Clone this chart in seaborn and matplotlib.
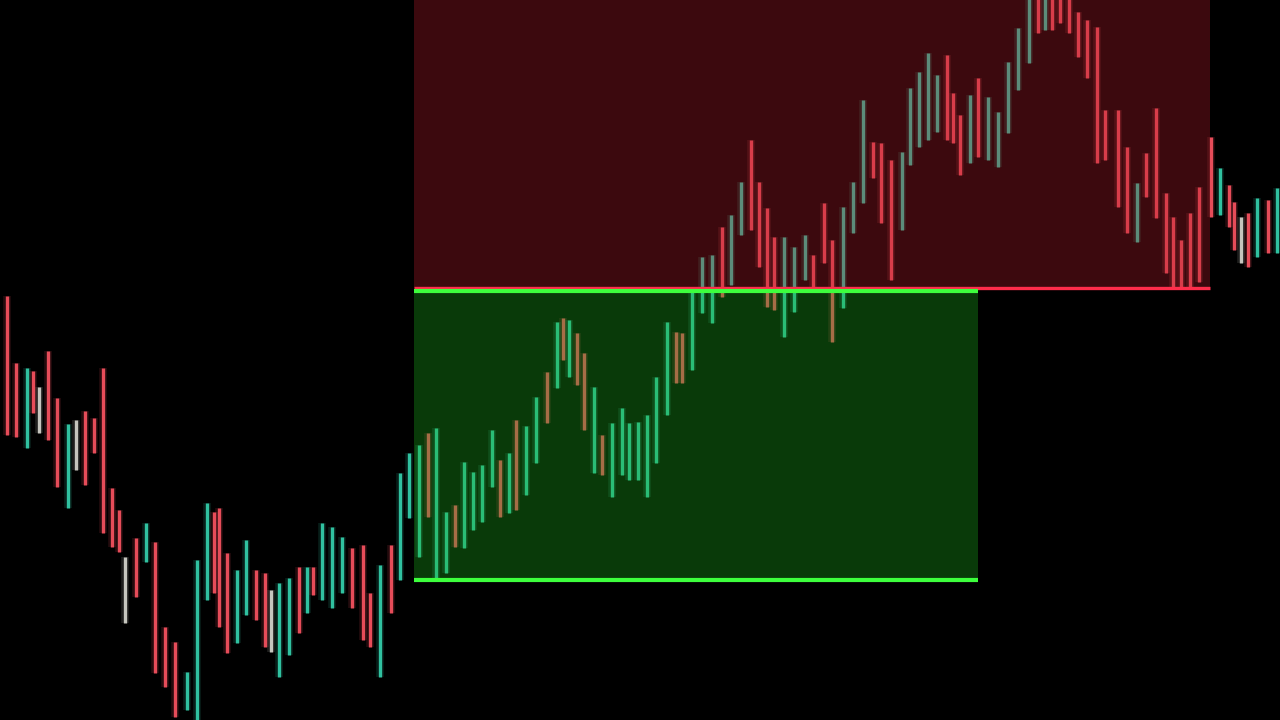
import matplotlib
matplotlib.use('Agg')
import matplotlib.pyplot as plt
import pandas as pd
import seaborn as sns

# bar positions (time axis) and high / low prices
t = [7, 16, 27, 33, 39, 48, 57, 68, 76, 85, 94, 103, 112, 119, 125, 136, 146, 155, 165, 175,
     187, 197, 207, 214, 219, 227, 237, 246, 256, 265, 271, 279, 289, 299, 307, 313, 322, 332,
     342, 352, 363, 370, 380, 391, 400, 409, 419, 428, 436, 446, 455, 464, 473, 482, 492, 500,
     509, 516, 526, 536, 547, 557, 563, 569, 577, 584, 594, 602, 612, 622, 629, 638, 647, 656,
     667, 676, 682, 692, 702, 712, 722, 731, 741, 751, 759, 767, 774, 784, 794, 805, 813, 824,
     832, 843, 853, 863, 873, 881, 891, 902, 910, 919, 928, 937, 947, 953, 960, 970, 978, 988,
     998, 1008, 1018, 1029, 1038, 1045, 1052, 1060, 1069, 1078, 1087, 1097, 1105, 1118, 1127,
     1137, 1146, 1156, 1166, 1173, 1181, 1190, 1199, 1211, 1220, 1229, 1234, 1241, 1248, 1257,
     1268, 1277]
high = [424, 357, 352, 349, 333, 369, 322, 296, 300, 309, 302, 352, 232, 210, 163, 182, 197, 178, 93, 78,
        48, 160, 217, 208, 212, 167, 150, 180, 150, 147, 130, 137, 142, 153, 153, 153, 197, 193,
        183, 172, 175, 127, 155, 175, 247, 267, 275, 287, 292, 208, 215, 258, 248, 255, 290, 260,
        267, 300, 294, 323, 348, 398, 402, 400, 387, 367, 333, 285, 297, 312, 297, 298, 305, 343,
        398, 388, 387, 430, 463, 465, 493, 505, 538, 580, 538, 512, 483, 483, 473, 485, 465, 517,
        480, 513, 538, 620, 578, 577, 560, 568, 632, 648, 667, 645, 665, 627, 605, 625, 642, 623,
        608, 658, 692, 725, 725, 725, 725, 725, 725, 708, 700, 693, 610, 610, 573,
        537, 567, 612, 527, 503, 480, 507, 533, 583, 552, 535, 518, 503, 507, 522,
        520, 532]
low = [285, 283, 272, 307, 287, 280, 233, 212, 250, 235, 267, 187, 173, 168, 97, 123, 158, 47, 33, 3,
       10, -5, 120, 127, 93, 67, 77, 105, 100, 73, 68, 43, 65, 87, 107, 125, 120, 112,
       127, 112, 80, 73, 43, 107, 140, 202, 163, 203, 140, 147, 173, 172, 190, 198, 233, 203,
       207, 210, 225, 257, 297, 332, 360, 343, 335, 290, 247, 245, 223, 245, 240, 240, 223, 257,
       305, 337, 337, 350, 407, 397, 423, 435, 485, 490, 453, 413, 410, 383, 408, 440, 433, 457,
       378, 412, 487, 517, 542, 497, 440, 490, 555, 573, 580, 588, 580, 577, 545, 557, 563, 560,
       553, 587, 630, 657, 687, 690, 690, 697, 687, 663, 642, 557, 560, 513, 487,
       478, 523, 502, 447, 433, 432, 433, 438, 503, 505, 493, 470, 457, 453, 463,
       467, 467]
# r = bearish, t = bullish, d = doji
side = list('rrtrdrrtdrrrrrdrtrrrttt'
            'rrrttrrdttrtrtttrrrtrt'
            'ttrttrttttrtrttrtrtrrtrtttttttrrt'
            'ttrttrrrrtttrrrtttrrrt'
            'ttttrrrtrtttttrtrrrrrrrrrtrrrrrrrr'
            'trrdrtrt')

# supply / demand zones
zone_left = 414
supply_right, supply_low, supply_high = 1210, 432, 760
demand_right, demand_low, demand_high = 978, 140, 429

df = pd.DataFrame({'t': t, 'high': high, 'low': low, 'side': side})
colors = {'r': '#f2505e', 't': '#33cba8', 'd': '#cfcfc8'}

sns.set_theme(style='dark')
fig = plt.figure(figsize=(12.8, 7.2), dpi=100, facecolor='black')
ax = fig.add_axes([0, 0, 1, 1])
ax.set_facecolor('black')

for s, grp in df.groupby('side'):
    # soft glow + candle
    ax.vlines(grp['t'], grp['low'], grp['high'], color=colors[s], lw=5.5, alpha=0.15, zorder=1)
    ax.vlines(grp['t'], grp['low'], grp['high'], color=colors[s], lw=2.4, alpha=0.95, zorder=2)

# zones sit on top of the candles so they tint them
ax.fill_between([zone_left, supply_right], supply_low, supply_high, color='#bb1f2c', alpha=0.32, lw=0, zorder=3)
ax.fill_between([zone_left, demand_right], demand_low, demand_high, color='#1fb51f', alpha=0.32, lw=0, zorder=3)

ax.hlines(supply_low, zone_left, supply_right, color='#ff2d4b', lw=2.4, zorder=4)
ax.hlines(demand_high, zone_left, demand_right, color='#3dff3d', lw=3, zorder=5)
ax.hlines(demand_low, zone_left, demand_right, color='#3dff3d', lw=3, zorder=5)

ax.set_xlim(0, 1280)
ax.set_ylim(0, 720)
ax.set_axis_off()

plt.savefig('out.png', dpi=100, facecolor='black')
